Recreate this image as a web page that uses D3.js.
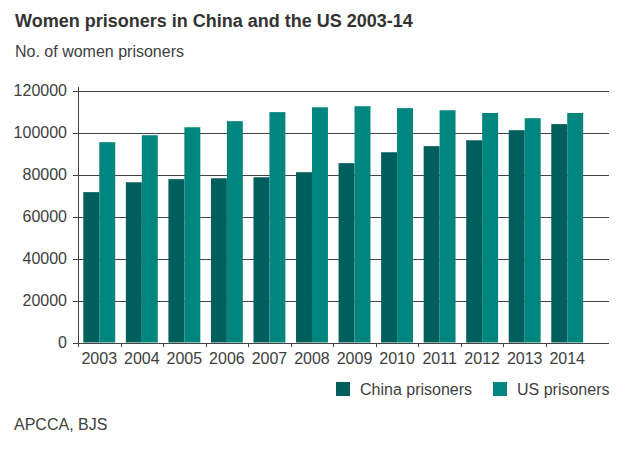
<!DOCTYPE html>
<html>
<head>
<meta charset="utf-8">
<script src="https://cdn.jsdelivr.net/npm/d3@7"></script>
<style>
    body { margin: 0; background: #fff; }
    #chart { width: 624px; height: 452px; }
    text { font-family: "Liberation Sans", Arial, sans-serif; fill: #404040; }
</style>
</head>
<body>
<div id="chart"></div>
<script>
// Data
const years = ["2003", "2004", "2005", "2006", "2007", "2008", "2009", "2010", "2011", "2012", "2013", "2014"];
const chinaPrisoners = [71600, 76300, 77800, 78200, 78700, 81100, 85400, 90600, 93500, 96300, 101100, 104000];
const usPrisoners = [95400, 98700, 102500, 105400, 109700, 112000, 112500, 111600, 110600, 109300, 106800, 109300];
const yTicks = [0, 20000, 40000, 60000, 80000, 100000, 120000];
const seriesNames = ["China prisoners", "US prisoners"];
const colors = ["#005f5c", "#00857f"];

const width = 624;
const height = 452;

const svg = d3.select("#chart")
    .append("svg")
    .attr("width", width)
    .attr("height", height);

// Scales
const x = d3.scaleBand()
    .domain(years)
    .range([78, 588.5])
    .paddingInner(0.25)
    .paddingOuter(0.125);

const xSub = d3.scaleBand()
    .domain(seriesNames)
    .range([0, x.bandwidth()]);

const y = d3.scaleLinear()
    .domain([0, 120000])
    .range([342.5, 90.5]);

// Titles
svg.append("text")
    .attr("x", 15)
    .attr("y", 26.5)
    .attr("font-size", "18px")
    .attr("font-weight", "bold")
    .style("fill", "#333")
    .text("Women prisoners in China and the US 2003-14");

svg.append("text")
    .attr("x", 15)
    .attr("y", 57)
    .attr("font-size", "16px")
    .text("No. of women prisoners");

// Gridlines (behind the bars)
svg.append("g")
    .selectAll("line")
    .data(yTicks)
    .join("line")
    .attr("x1", 73)
    .attr("x2", 609)
    .attr("y1", (d) => Math.round(y(d)) + 0.5)
    .attr("y2", (d) => Math.round(y(d)) + 0.5)
    .attr("stroke", "#444")
    .attr("stroke-width", 1);

// Y labels
svg.append("g")
    .selectAll("text")
    .data(yTicks)
    .join("text")
    .attr("x", 67)
    .attr("y", (d) => y(d))
    .attr("dy", "0.36em")
    .attr("text-anchor", "end")
    .attr("font-size", "16px")
    .text((d) => d);

// Y axis line
svg.append("line")
    .attr("x1", 78.5)
    .attr("x2", 78.5)
    .attr("y1", 87)
    .attr("y2", 343)
    .attr("stroke", "#444");

// Bars
const groups = svg.append("g")
    .selectAll("g")
    .data(years)
    .join("g")
    .attr("transform", (d) => `translate(${x(d)},0)`);

groups.selectAll("rect")
    .data((d, i) => [
        { name: seriesNames[0], value: chinaPrisoners[i] },
        { name: seriesNames[1], value: usPrisoners[i] }
    ])
    .join("rect")
    .attr("x", (d) => xSub(d.name))
    .attr("y", (d) => y(d.value))
    .attr("width", xSub.bandwidth())
    .attr("height", (d) => y(0) - y(d.value))
    .attr("fill", (d, i) => colors[i]);

// X axis ticks at band boundaries, labels centred
const edge = (x.step() - x.bandwidth()) / 2;
svg.append("g")
    .selectAll("line")
    .data(years)
    .join("line")
    .attr("x1", (d) => Math.round(x(d) - edge) + 0.5)
    .attr("x2", (d) => Math.round(x(d) - edge) + 0.5)
    .attr("y1", 343)
    .attr("y2", 347)
    .attr("stroke", "#444");

svg.append("g")
    .selectAll("text")
    .data(years)
    .join("text")
    .attr("x", (d) => x(d) + x.bandwidth() / 2)
    .attr("y", 364)
    .attr("text-anchor", "middle")
    .attr("font-size", "16px")
    .text((d) => d);

// Legend
const legendX = [336, 493];
const legend = svg.append("g")
    .selectAll("g")
    .data(seriesNames)
    .join("g")
    .attr("transform", (d, i) => `translate(${legendX[i]},382)`);

legend.append("rect")
    .attr("width", 14)
    .attr("height", 14)
    .attr("fill", (d, i) => colors[i]);

legend.append("text")
    .attr("x", 24)
    .attr("y", 12.5)
    .attr("font-size", "16px")
    .text((d) => d);

// Source
svg.append("text")
    .attr("x", 14)
    .attr("y", 430)
    .attr("font-size", "16px")
    .text("APCCA, BJS");
</script>
</body>
</html>
